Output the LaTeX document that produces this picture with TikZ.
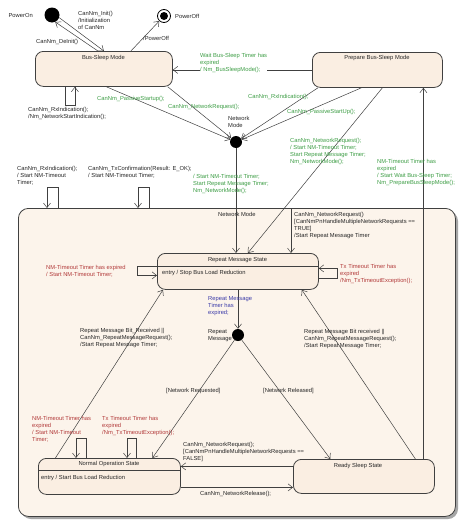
\documentclass[tikz,border=0pt]{standalone}
\usepackage{fontspec}
\setmainfont{Liberation Sans}
\usetikzlibrary{arrows.meta,calc}
\definecolor{stfill}{HTML}{FAEEE2}
\definecolor{nmfill}{HTML}{FCF4EB}
\definecolor{grnc}{HTML}{3E9E46}
\definecolor{redc}{HTML}{B23A3A}
\definecolor{bluc}{HTML}{3A3AA8}
\definecolor{lnc}{HTML}{404040}
\begin{document}
\begin{tikzpicture}[x=1pt,y=-1pt,
  every node/.style={font=\fontsize{5.8}{7}\selectfont, inner sep=0pt, align=left, text=black!85},
  st/.style={draw=lnc, line width=0.8pt, fill=stfill, rounded corners=8pt, anchor=north west},
  arr/.style={draw=lnc, line width=0.5pt, -{Straight Barb[length=4.5pt,width=7pt]}},
  lnk/.style={draw=lnc, line width=0.5pt},
  gtxt/.style={text=grnc},
  rtxt/.style={text=redc},
  btxt/.style={text=bluc},
  lbl/.style={anchor=north west},
  junc/.style={circle, fill=black, minimum size=12pt},
]
\fill[white] (0,0) rectangle (474,525);
\useasboundingbox (0,0) rectangle (474,525);

% Network Mode composite state
\fill[black!35, rounded corners=10pt] (21,211) rectangle (458,519);
\node[draw=lnc, fill=nmfill, rounded corners=10pt, anchor=north west, minimum width=437pt, minimum height=308pt, line width=0.8pt] (nm) at (18,208) {};

% initial / final
\node[junc, minimum size=15pt] (pon) at (52,15) {};
\node[circle, draw=black, line width=0.8pt, fill=white, minimum size=13pt] (poff) at (164,16) {};
\node[circle, fill=black, minimum size=8pt] (poffin) at (poff) {};

% states
\node[st, minimum width=137pt, minimum height=35pt] (bs) at (35,51) {};
\node[st, minimum width=130pt, minimum height=35pt] (pb) at (312,52) {};
\node[st, minimum width=161pt, minimum height=36pt] (rm) at (157,253) {};
\node[st, minimum width=142pt, minimum height=36pt] (no) at (38,458) {};
\node[st, minimum width=141pt, minimum height=34pt] (rs) at (293,459) {};
\draw[lnk, line width=0.8pt] ($(rm.north west)+(0,13)$) -- ($(rm.north east)+(0,13)$);
\draw[lnk, line width=0.8pt] ($(no.north west)+(0,12)$) -- ($(no.north east)+(0,12)$);

% junctions
\node[junc] (nmj) at (236,142) {};
\node[junc] (rmj) at (238,335) {};

% titles
\node (tbs) at (103.5,57.5) {Bus-Sleep Mode};
\node (tpb) at (377,57.5) {Prepare Bus-Sleep Mode};
\node (trm) at (237.5,260) {Repeat Message State};
\node (tno) at (109,464) {Normal Operation State};
\node (trs) at (358,466) {Ready Sleep State};
\node[anchor=west] (lrment) at (162,272.5) {entry / Stop Bus Load Reduction};
\node[anchor=west] (lnoent) at (41,478) {entry / Start Bus Load Reduction};
\node[lbl] (lnm) at (218,212.5) {Network Mode};

% connectors top
\draw[arr] (pon.-20) -- (bs.north);
\draw[arr] ($(bs.north)+(-6,0)$) -- (pon.-65);
\draw[arr] ($(bs.north)+(27,0)$) -- (poff);
\draw[arr] ($(bs.south)+(-39,0)$) -- ++(0,18) -| ($(bs.south)+(-29,0)$);
\draw[arr] (pb.west) -- (pb.west -| bs.east);
\draw[arr] ($(bs.south)+(2.5,0)$) -- (nmj);
\draw[arr] ($(bs.south east)+(-5,0)$) -- (nmj);
\draw[arr] ($(pb.south west)+(6,0)$) -- (nmj);
\draw[arr] ($(pb.south)+(-16,0)$) -- (nmj);
\draw[arr] (nmj) -- (nmj |- rm.north);
\draw[arr] ($(pb.south)+(5,0)$) -- ($(rm.north)+(10,0)$);
\coordinate (nmtop) at (291,208);
\draw[arr] (nmtop) -- (nmtop |- rm.north);
\coordinate (rsup) at ($(rs.north)+(59.5,0)$);
\draw[arr] (rsup) -- (rsup |- pb.south);

% loops on Network Mode
\draw[arr] ($(nm.north west)+(40,0)$) -- ++(0,-21) -| ($(nm.north west)+(29,0)$);
\draw[arr] ($(nm.north west)+(131,0)$) -- ++(0,-21) -| ($(nm.north west)+(120,0)$);

% repeat message loops
\draw[arr] ($(rm.west)+(0,-5)$) -- ++(-20,0) |- ($(rm.west)+(0,4)$);
\draw[arr] ($(rm.east)+(0,7)$) -- ++(18,0) |- ($(rm.east)+(0,-3)$);

% inner transitions
\draw[arr] (rmj |- rm.south) -- (rmj);
\draw[arr] (rmj) -- ($(no.north)+(43,0)$);
\draw[arr] (rmj) -- ($(rs.north)+(-33.5,0)$);
\draw[arr] ($(no.north)+(-54,0)$) -- ($(rm.south west)+(6,0)$);
\draw[arr] ($(rs.north)+(51.5,0)$) -- ($(rm.south east)+(-17,0)$);
\draw[arr] ($(no.north west)+(48,0)$) -- ++(0,-20) -| ($(no.north west)+(38,0)$);
\draw[arr] ($(no.north west)+(98,0)$) -- ++(0,-20) -| ($(no.north west)+(89,0)$);
\draw[arr] ($(rs.west)+(0,-10)$) -- ($(no.east)+(0,-10)$);
\draw[arr] ($(no.east)+(0,11)$) -- ($(rs.west)+(0,11)$);

% labels
\node[anchor=east] (lpon) at (33,16) {PowerOn};
\node[anchor=west] (lpoff) at (175,16) {PowerOff};
\node[lbl] (linit) at (78,11.5) {CanNm\_Init()\\/Initialization\\of CanNm};
\node[anchor=west] (ldeinit) at (36,42) {CanNm\_DeInit()};
\node[anchor=west] (lpoff2) at (143,38) {/PowerOff};
\node[lbl,gtxt,fill=white] (lwait) at (200,53.5) {Wait Bus-Sleep Timer has\\expired\\/ Nm\_BusSleepMode();};
\node[lbl] (lrxs) at (28,107.5) {CanNm\_RxIndication();\\/Nm\_NetworkStartIndication();};
\node[anchor=west,gtxt] (lpass1) at (97,99) {CanNm\_PassiveStartup();};
\node[anchor=west,gtxt] (lnreq1) at (168,107) {CanNm\_NetworkRequest();};
\node[lbl] (lnmj) at (228,116.5) {Network\\Mode};
\node[anchor=west,gtxt] (lrx2) at (248,97) {CanNm\_RxIndication();};
\node[anchor=west,gtxt] (lpass2) at (287,112) {CanNm\_PassiveStartUp();};
\node[lbl,gtxt] (lnreq2) at (290,138.5) {CanNm\_NetworkRequest();\\/ Start NM-Timeout Timer;\\Start Repeat Message Timer;\\Nm\_NetworkMode();};
\node[lbl,gtxt] (lstart) at (193,174.5) {/ Start NM-Timeout Timer;\\Start Repeat Message Timer;\\Nm\_NetworkMode();};
\node[lbl,gtxt] (lnmto) at (377,159.5) {NM-Timeout Timer has\\expired\\/ Start Wait Bus-Sleep Timer;\\Nm\_PrepareBusSleepMode();};
\node[lbl] (lrx3) at (17,166.5) {CanNm\_RxIndication();\\/ Start NM-Timeout\\Timer;};
\node[lbl] (ltx) at (88,166.5) {CanNm\_TxConfirmation(Result: E\_OK);\\/ Start NM-Timeout Timer;};
\node[lbl] (lnreq3) at (294,212.5) {CanNm\_NetworkRequest()\\{[}CanNmPnHandleMultipleNetworkRequests ==\\TRUE{]}\\/Start Repeat Message Timer};
\node[lbl,rtxt] (lrmto) at (46,265.5) {NM-Timeout Timer has expired\\/ Start NM-Timeout Timer;};
\node[lbl,rtxt] (lrmtx) at (340,264.5) {Tx Timeout Timer has\\expired\\/Nm\_TxTimeoutException();};
\node[lbl,btxt] (lrmexp) at (208,296) {Repeat Message\\Timer has\\expired;};
\node[lbl] (lrmj) at (208,329.5) {Repeat\\Message};
\node[lbl] (lbit1) at (80,328.5) {Repeat Message Bit\_Received ||\\CanNm\_RepeatMessageRequest();\\/Start Repeat Message Timer;};
\node[lbl] (lbit2) at (304,329.5) {Repeat Message Bit received ||\\CanNm\_RepeatMessageRequest();\\/Start Repeat Message Timer;};
\node[anchor=west] (lnrq) at (166,391) {{[}Network Requested{]}};
\node[anchor=west] (lnrl) at (263,391) {{[}Network Released{]}};
\node[lbl,rtxt] (lnoto) at (32,416.5) {NM-Timeout Timer has\\expired\\/ Start NM-Timeout\\Timer;};
\node[lbl,rtxt] (lnotx) at (102,416.5) {Tx Timeout Timer has\\expired\\/Nm\_TxTimeoutException();};
\node[lbl] (lnreq4) at (183,442.5) {CanNm\_NetworkRequest();\\{[}CanNmPnHandleMultipleNetworkRequests ==\\FALSE{]}};
\node[anchor=west] (lrel) at (200,494) {CanNm\_NetworkRelease();};
\end{tikzpicture}
\end{document}
